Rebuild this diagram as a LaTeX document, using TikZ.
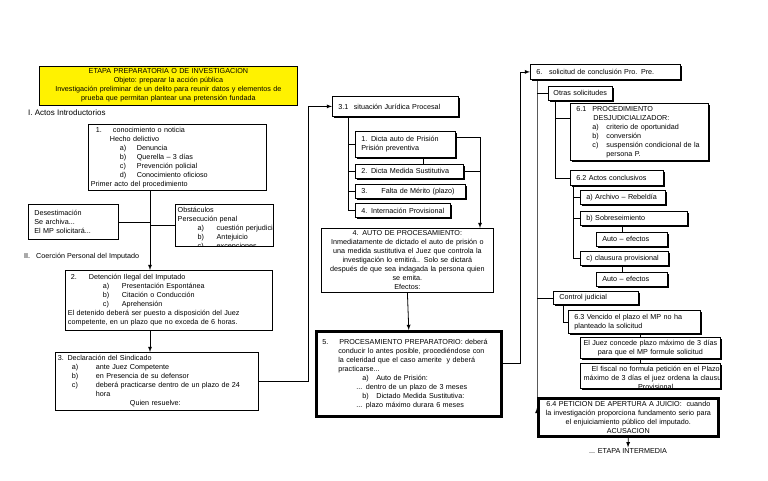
\documentclass[tikz,border=0pt]{standalone}
\usepackage{fontspec}
\setmainfont{Liberation Sans}
\usetikzlibrary{shadows}

\newcommand{\inciso}[4]{\hspace*{#1}\makebox[#2][l]{#3}#4}

\begin{document}
\begin{tikzpicture}[x=1pt,y=-1pt,>=latex,font=\fontsize{7.2}{9}\selectfont]
    \tikzstyle{caja} = [rectangle, draw, line width=0.8pt, fill=white,
        inner sep=2.5pt, align=left, anchor=north west]
    \tikzstyle{sombra} = [caja, drop shadow={shadow xshift=1.1pt,
        shadow yshift=-1.1pt, fill=black, opacity=1}]
    \tikzstyle{cajagruesa} = [caja, line width=2.6pt]
    \tikzstyle{texto} = [inner sep=2.5pt, align=left, anchor=north west]
    \tikzstyle{linea} = [draw, line width=0.8pt]

    \useasboundingbox (0,0) rectangle (768,480);

    % Etapa preparatoria
    \node[caja, fill=yellow, align=center, text width=253pt,
        minimum height=37pt] (etapa) at (39,66) {ETAPA PREPARATORIA O DE
        INVESTIGACION\\ Objeto:\ preparar la acción pública\\ Investigación
        preliminar de un delito para reunir datos y elementos de\\ prueba que
        permitan plantear una pretensión fundada};
    \node[anchor=west, inner sep=0pt, font=\fontsize{8}{9}\selectfont]
        (actos) at (28,113) {I. Actos Introductorios};

    % I. Actos introductorios
    \coordinate (eje) at (150,0);
    \node[caja, text width=173pt, minimum height=66pt] (conoc) at (88,124)
        {\hspace*{5pt}\makebox[17pt][l]{1.}conocimiento o noticia\\
        \hspace*{19pt}Hecho delictivo\\
        \inciso{29pt}{17pt}{a)}{Denuncia}\\
        \inciso{29pt}{17pt}{b)}{Querella -- 3 días}\\
        \inciso{29pt}{17pt}{c)}{Prevención policial}\\
        \inciso{29pt}{17pt}{d)}{Conocimiento oficioso}\\
        Primer acto del procedimiento};
    \node[caja, inner xsep=6pt, text width=78pt, minimum height=35pt]
        (desest) at (28,204) {Desestimación\\ Se archiva...\\ El MP
        solicitará...};
    \begin{scope}
      \clip (175,204) rectangle ++(98,42);
      \node[texto, text width=140pt] (obsttexto) at (175,204) {Obstáculos\\
          Persecución penal\\
          \inciso{20pt}{19pt}{a)}{cuestión perjudicial}\\
          \inciso{20pt}{19pt}{b)}{Antejuicio}\\
          \inciso{20pt}{19pt}{c)}{excepciones}};
    \end{scope}
    \node[caja, fill=none, minimum width=98pt, minimum height=42pt] (obst)
        at (175,204) {};

    % II. Coercion personal
    \node[anchor=west, inner sep=0pt] (coercion) at (24,257)
        {II.\hspace{6pt}Coerción Personal del Imputado};
    \node[caja, text width=202pt, minimum height=60pt] (deten) at (65,270)
        {\hspace*{3pt}\makebox[18pt][l]{2.}Detención Ilegal del Imputado\\
        \inciso{35pt}{19pt}{a)}{Presentación Espontánea}\\
        \inciso{35pt}{19pt}{b)}{Citación o Conducción}\\
        \inciso{35pt}{19pt}{c)}{Aprehensión}\\
        El detenido deberá ser puesto a disposición del Juez\\
        competente, en un plazo que no exceda de 6 horas.};
    \node[caja, text width=198pt, minimum height=58pt] (declar) at (55,352)
        {3. Declaración del Sindicado\\
        \inciso{14pt}{24pt}{a)}{ante Juez Competente}\\
        \inciso{14pt}{24pt}{b)}{en Presencia de su defensor}\\
        \inciso{14pt}{24pt}{c)}{deberá practicarse dentro de un plazo de 24}\\
        \hspace*{38pt}hora\\
        \hspace*{72pt}Quien resuelve:};

    % Situacion juridica procesal
    \node[sombra, inner xsep=6pt, text width=114pt, minimum height=20pt] (sit)
        at (332,96) {3.1\hspace{3pt} situación Jurídica Procesal};
    \node[sombra, inner xsep=6pt, text width=88pt, minimum height=26pt]
        (dicta1) at (355,131) {1. Dicta auto de Prisión\\ Prisión preventiva};
    \node[sombra, inner xsep=6pt, text width=96pt, minimum height=14pt]
        (dicta2) at (355,164) {2. Dicta Medida Sustitutiva};
    \node[sombra, inner xsep=6pt, text width=98pt, minimum height=14pt]
        (falta) at (355,184) {3.\hspace{14pt}Falta de Mérito (plazo)};
    \node[sombra, inner xsep=6pt, text width=83pt, minimum height=14pt]
        (intern) at (355,203) {4. Internación Provisional};
    \node[caja, align=center, text width=167pt, minimum height=63pt] (auto)
        at (321,228) {4. AUTO DE PROCESAMIENTO:\\ Inmediatamente de dictado el
        auto de prisión o\\ una medida sustitutiva el Juez que controla la\\
        investigación lo emitirá.. Solo se dictará\\ después de que sea
        indagada la persona quien\\ se emita.\\ Efectos:};
    \node[cajagruesa, inner xsep=6pt, text width=173pt, minimum height=85pt]
        (proc) at (315,330)
        {5.\hspace{11pt}PROCESAMIENTO PREPARATORIO: deberá\\
        \hspace*{16pt}conducir lo antes posible, procediéndose con\\
        \hspace*{16pt}la celeridad que el caso amerite\ \ y deberá\\
        \hspace*{16pt}practicarse...\\
        \inciso{40pt}{14pt}{a)}{Auto de Prisión:}\\
        \hspace*{34pt}... dentro de un plazo de 3 meses\\
        \inciso{40pt}{14pt}{b)}{Dictado Medida Sustitutiva:}\\
        \hspace*{34pt}... plazo máximo durara 6 meses};

    % Solicitud de conclusion
    \node[sombra, inner xsep=6pt, text width=138pt, minimum height=15pt]
        (sol6) at (530,64) {6.\hspace{3pt} solicitud de conclusión Pro. Pre.};
    \node[sombra, inner xsep=5pt, text width=54pt, minimum height=14pt]
        (otras) at (548,86) {Otras solicitudes};
    \node[sombra, inner xsep=6pt, text width=126pt, minimum height=57pt]
        (p61) at (570,103) {6.1\hspace{6pt}PROCEDIMIENTO\\
        \hspace*{17pt}DESJUDICIALIZADOR:\\
        \inciso{16pt}{14pt}{a)}{criterio de oportunidad}\\
        \inciso{16pt}{14pt}{b)}{conversión}\\
        \inciso{16pt}{14pt}{c)}{suspensión condicional de la}\\
        \hspace*{30pt}persona P.};
    \node[sombra, inner xsep=6pt, text width=81pt, minimum height=15pt]
        (p62) at (570,170) {6.2 Actos conclusivos};
    \node[sombra, inner xsep=6pt, text width=73pt, minimum height=14pt]
        (arch) at (580,190) {a) Archivo -- Rebeldía};
    \node[sombra, inner xsep=6pt, text width=95pt, minimum height=14pt]
        (sobre) at (580,211) {b) Sobreseimiento};
    \node[sombra, inner xsep=6pt, text width=59pt, minimum height=14pt]
        (auto1) at (596,232) {Auto -- efectos};
    \node[sombra, inner xsep=6pt, text width=76pt, minimum height=14pt]
        (claus) at (580,251) {c) clausura provisional};
    \node[sombra, inner xsep=6pt, text width=59pt, minimum height=14pt]
        (auto2) at (596,272) {Auto -- efectos};
    \node[sombra, inner xsep=6pt, text width=73pt, minimum height=13pt]
        (control) at (553,291) {Control judicial};
    \node[sombra, inner xsep=6pt, text width=120pt, minimum height=23pt]
        (p63) at (568,310) {6.3 Vencido el plazo el MP no ha\\ planteado la
        solicitud};
    \node[sombra, align=center, inner xsep=0pt, text width=140pt,
        minimum height=21pt] (juez) at (580,337) {El Juez concede plazo
        máximo de 3 días\\ para que el MP formule solicitud};
    \node[sombra, minimum width=140pt, minimum height=25pt]
        (fiscal) at (580,363) {};
    \begin{scope}
      \clip (580,363) rectangle ++(140,25);
      \node[texto, align=center, text width=150pt] (fiscaltexto)
          at (578,363) {El fiscal no formula petición en el Plazo\\ máximo de
          3 días el juez ordena la clausura\\ Provisional};
    \end{scope}
    \node[caja, fill=none, minimum width=140pt, minimum height=25pt]
        (fiscalborde) at (580,363) {};
    \node[cajagruesa, align=center, inner xsep=2pt, text width=176pt,
        minimum height=38pt] (p64) at (537,397) {6.4 PETICION DE APERTURA A
        JUICIO:\ \ cuando\\ la investigación proporciona fundamento serio
        para\\ el enjuiciamiento público del imputado.\\ ACUSACION};
    \node[inner sep=1pt] (intermedia) at (628,451) {... ETAPA INTERMEDIA};

    % conectores
    \draw[linea,->] (conoc.south -| eje) -- (deten.north -| eje);
    \draw[linea] (desest.east) -- (desest.east -| eje);
    \draw[linea] (obst.west) -- (obst.west -| eje);
    \draw[linea,->] (deten.south -| eje) -- (declar.north -| eje);
    \draw[linea,->] (declar.east) -- ++(50,0) |- (sit.west);

    \coordinate (t31) at (348,0);
    \coordinate (c12) at (423,0);
    \coordinate (c31) at (480,0);
    \draw[linea] (sit.south -| t31) |- (intern.west);
    \foreach \n in {dicta1,dicta2,falta}
      \draw[linea] (\n.west -| t31) -- (\n.west);
    \draw[linea] (dicta1.south -| c12) -- (dicta2.north -| c12);
    \draw[linea,->] ([yshift=-6pt]dicta1.north east) -| (auto.north -| c31);
    \draw[linea] (dicta2.east) -- (dicta2.east -| c31);
    \draw[linea,->] (auto.south) -- (proc.north);
    \draw[linea,->] ([yshift=-33pt]proc.north east) -- ++(18,0) |- (sol6.west);

    \coordinate (t6) at (537,0);
    \coordinate (t61) at (555,0);
    \coordinate (t62) at (573,0);
    \coordinate (t63) at (563,0);
    \coordinate (c6) at (622,0);
    \coordinate (c63) at (640,0);
    \coordinate (p61in) at ([yshift=-15pt]p61.north west);
    \coordinate (p64in) at ([yshift=-11pt]p64.north west);
    \draw[linea,->] (sol6.south -| t6) |- (p64in);
    \draw[linea] (otras.west -| t6) -- (otras.west);
    \draw[linea] (control.west -| t6) -- (control.west);
    \draw[linea] (otras.south -| t61) |- (p62.west);
    \draw[linea] (p61in -| t61) -- (p61in);
    \draw[linea] (p62.south -| t62) |- (claus.west);
    \draw[linea] (arch.west -| t62) -- (arch.west);
    \draw[linea] (sobre.west -| t62) -- (sobre.west);
    \draw[linea] (sobre.south -| c6) -- (auto1.north -| c6);
    \draw[linea] (claus.south -| c6) -- (auto2.north -| c6);
    \draw[linea] (control.south -| t63) |- (p63.west);
    \draw[linea] (p63.south -| c63) -- (juez.north -| c63);
    \draw[linea] (juez.south -| c63) -- (fiscal.north -| c63);
    \draw[linea,->] (p64.south) -- (intermedia.north);
\end{tikzpicture}
\end{document}
